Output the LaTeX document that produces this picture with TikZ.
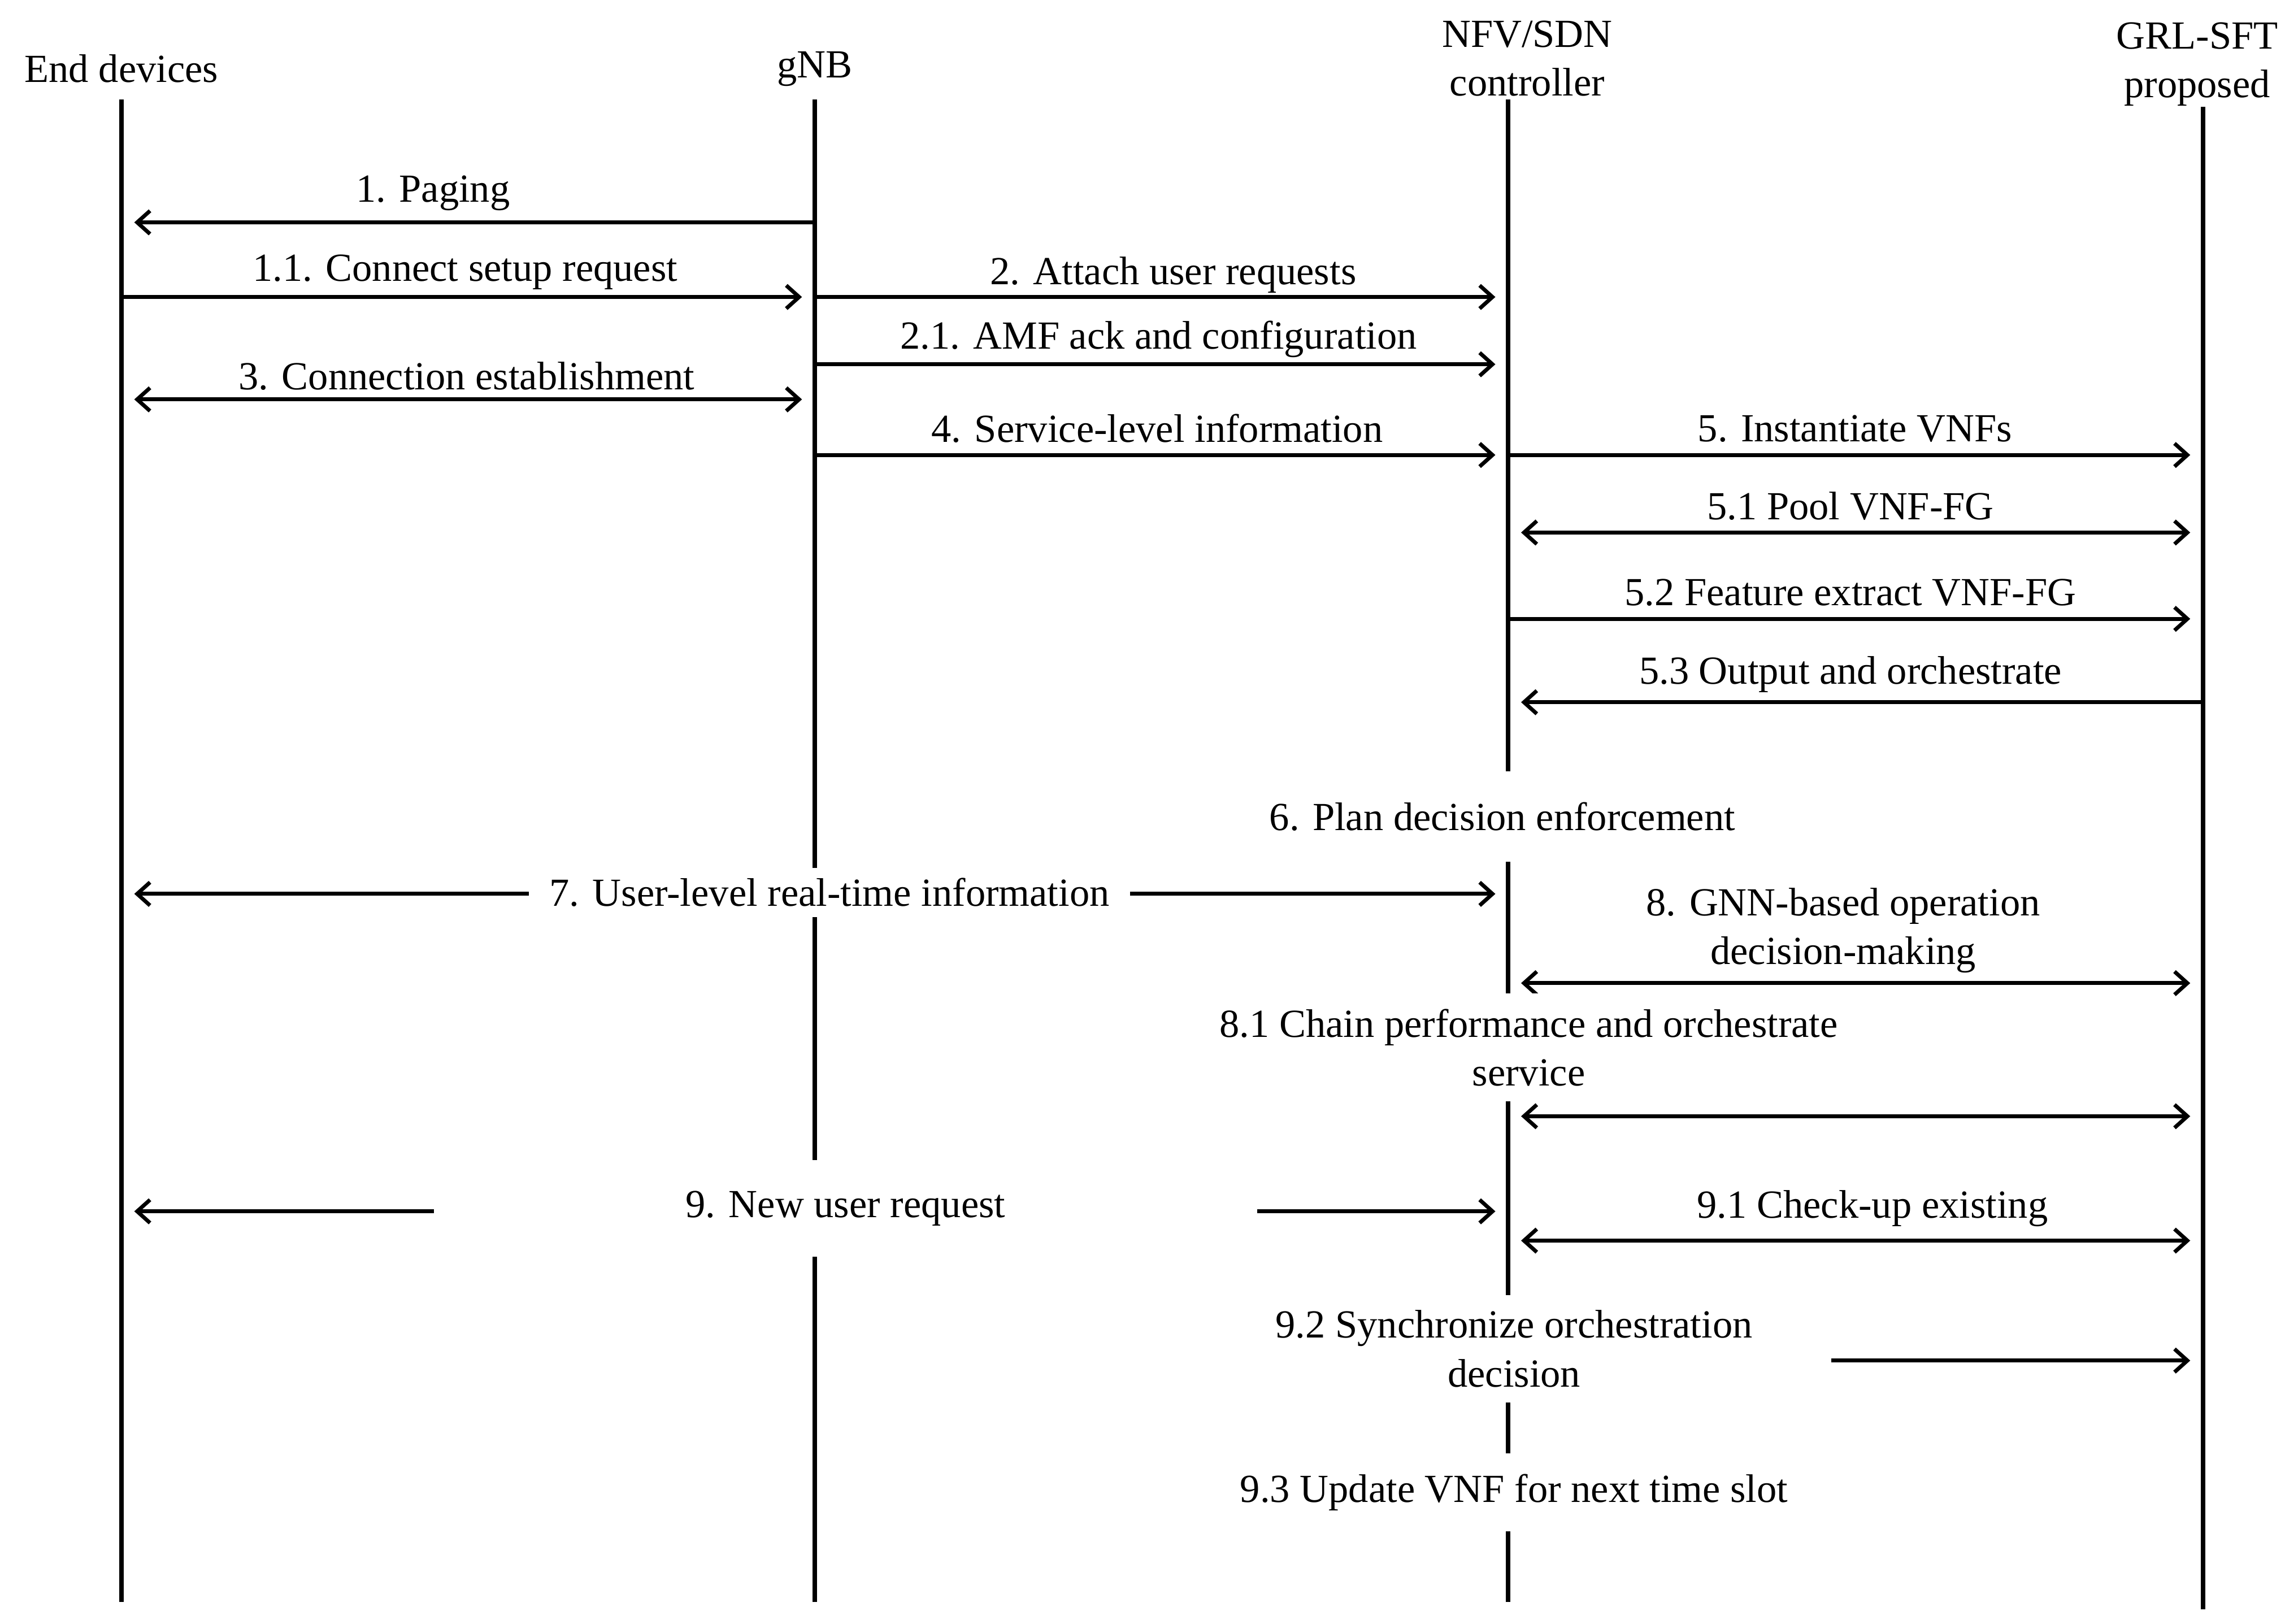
\documentclass[tikz,border=0pt]{standalone}
\usepackage{fontspec}
\setmainfont{Liberation Serif}
\usetikzlibrary{arrows.meta}
\begin{document}
\begin{tikzpicture}[x=0.02cm,y=-0.02cm,
  life/.style={line width=1.8pt},
  msg/.style={line width=1.5pt,-{Straight Barb[length=5pt,width=9pt,line width=1.5pt]},shorten >=5pt},
  bmsg/.style={line width=1.5pt,{Straight Barb[length=5pt,width=9pt,line width=1.5pt]}-{Straight Barb[length=5pt,width=9pt,line width=1.5pt]},shorten >=5pt,shorten <=5pt},
  lab/.style={font=\fontsize{15.5}{19}\selectfont,align=center,inner sep=1pt},
  wlab/.style={lab,fill=white,inner ysep=4pt}]
\useasboundingbox (0,0) rectangle (1562,1110);
\node[lab] (hE) at (83,47) {End devices};
\node[lab] (hG) at (557,47) {gNB};
\node[lab] (hC) at (1044,40) {NFV/SDN\\controller};
\node[lab] (hR) at (1502,44) {GRL-SFT\\proposed};
\coordinate (E) at (83,68); \coordinate (G) at (557,68);
\coordinate (C) at (1031,68); \coordinate (R) at (1506,73);
\draw[life] (E) -- (E |- 0,1095);
\draw[life] (G) -- (G |- 0,1095);
\draw[life] (C) -- (C |- 0,1095);
\draw[life] (R) -- (R |- 0,1100);
% messages
\draw[msg] (G |- 0,152) -- (E |- 0,152);
\node[lab] (m1) at (296,132) {1. Paging};
\draw[msg] (E |- 0,203) -- (G |- 0,203);
\node[lab] (m11) at (318,186) {1.1. Connect setup request};
\draw[msg] (G |- 0,203) -- (C |- 0,203);
\node[lab] (m2) at (802,188) {2. Attach user requests};
\draw[msg] (G |- 0,249) -- (C |- 0,249);
\node[lab] (m21) at (792,232) {2.1. AMF ack and configuration};
\draw[bmsg] (E |- 0,273) -- (G |- 0,273);
\node[lab] (m3) at (319,257) {3. Connection establishment};
\draw[msg] (G |- 0,311) -- (C |- 0,311);
\node[lab] (m4) at (791,293) {4. Service-level information};
\draw[msg] (C |- 0,311) -- (R |- 0,311);
\node[lab] (m5) at (1268,293) {5. Instantiate VNFs};
\draw[bmsg] (C |- 0,364) -- (R |- 0,364);
\node[lab] (m51) at (1265,346) {5.1 Pool VNF-FG};
\draw[msg] (C |- 0,423) -- (R |- 0,423);
\node[lab] (m52) at (1265,405) {5.2 Feature extract VNF-FG};
\draw[msg] (R |- 0,480) -- (C |- 0,480);
\node[lab] (m53) at (1265,461) {5.3 Output and orchestrate};
\node[wlab,inner ysep=12pt] (m6) at (1027,558) {6. Plan decision enforcement};
\draw[bmsg] (E |- 0,611) -- (C |- 0,611);
\node[wlab,inner xsep=8pt] (m7) at (567,610) {7. User-level real-time information};
\node[lab] (m8) at (1260,636) {8. GNN-based operation\\decision-making};
\draw[bmsg] (C |- 0,672) -- (R |- 0,672);
\node[wlab,inner ysep=6pt] (m81) at (1045,716) {8.1 Chain performance and orchestrate\\service};
\draw[bmsg] (C |- 0,763) -- (R |- 0,763);
\draw[bmsg] (E |- 0,828) -- (C |- 0,828);
\node[wlab,inner xsep=98pt,inner ysep=12pt] (m9) at (578,826) {9. New user request};
\draw[bmsg] (C |- 0,848) -- (R |- 0,848);
\node[lab] (m91) at (1280,826) {9.1 Check-up existing};
\coordinate (s92) at (1252,930);
\draw[msg] (s92) -- (R |- 0,930);
\node[wlab,inner ysep=6pt] (m92) at (1035,922) {9.2 Synchronize orchestration\\decision};
\node[wlab,inner ysep=8pt] (m93) at (1035,1020) {9.3 Update VNF for next time slot};
\end{tikzpicture}
\end{document}
